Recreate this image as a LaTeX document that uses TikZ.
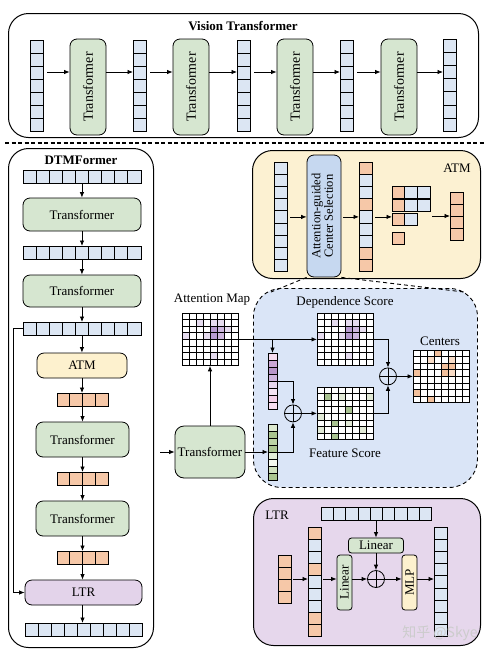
\documentclass[tikz,border=0pt]{standalone}
\usepackage{fontspec}
\setmainfont{Liberation Serif}
\newfontfamily\cjkfont{Noto Sans CJK SC}
\usetikzlibrary{arrows.meta}
\definecolor{tb}{HTML}{DCE6F3}
\definecolor{to}{HTML}{F6C8A8}
\definecolor{tg}{HTML}{D6E6D0}
\definecolor{ty}{HTML}{FDF1CE}
\definecolor{tp}{HTML}{E3D3EA}
\definecolor{atmbg}{HTML}{FCF1D2}
\definecolor{ltrbg}{HTML}{E6D7EC}
\definecolor{bluereg}{HTML}{DAE5F7}
\definecolor{agcsc}{HTML}{C6D8F0}
\definecolor{pl}{HTML}{E6DCEF}
\definecolor{pm}{HTML}{CDB6DE}
\definecolor{pd}{HTML}{B79BD0}
\definecolor{gl}{HTML}{E2EAD7}
\definecolor{gm}{HTML}{A8C290}
\definecolor{ol}{HTML}{F9DCC6}
\definecolor{om}{HTML}{F2C09C}
\definecolor{pc1}{HTML}{F6DDF0}
\definecolor{pc2}{HTML}{C9A6D4}
\definecolor{pc3}{HTML}{B795C8}
\definecolor{pc4}{HTML}{CDB3DC}
\definecolor{pc5}{HTML}{E6D6EE}
\definecolor{pc6}{HTML}{F3E3F3}
\definecolor{pc7}{HTML}{F2CFE8}
\definecolor{gc1}{HTML}{DCE9CF}
\definecolor{gc2}{HTML}{A9C48F}
\definecolor{gc3}{HTML}{BCD3A6}
\definecolor{gc4}{HTML}{E3EEDA}
\definecolor{gc5}{HTML}{F4F8EF}
\definecolor{gc6}{HTML}{CFE0BE}
% horizontal strip: name, x, y, cell w, cell h, n, colours
\newcommand\hstrip[7]{%
  \node[inner sep=0pt,outer sep=0pt,minimum width={#4*#6*1pt},minimum height={#5*1pt},anchor=north west] (#1) at (#2,#3) {};
  \foreach \ck [count=\ii from 0] in {#7} \draw[cell,fill=\ck] ({#2+\ii*#4},#3) rectangle ++(#4,#5);
}
% vertical strip
\newcommand\vstrip[7]{%
  \node[inner sep=0pt,outer sep=0pt,minimum width={#4*1pt},minimum height={#5*#6*1pt},anchor=north west] (#1) at (#2,#3) {};
  \foreach \ck [count=\ii from 0] in {#7} \draw[cell,fill=\ck] (#2,{#3+\ii*#5}) rectangle ++(#4,#5);
}
% 8x8 grid: name, x, y, coloured cells col/row/colour
\newcommand\attgrid[4]{%
  \node[inner sep=0pt,outer sep=0pt,minimum width=56pt,minimum height=52.8pt,anchor=north west,fill=white] (#1) at (#2,#3) {};
  \foreach \ci/\ri/\ck in {#4} \fill[\ck] ({#2+\ci*7},{#3+\ri*6.6}) rectangle ++(7,6.6);
  \foreach \kk in {0,...,8} {\draw[gridline] ({#2+\kk*7},#3) -- ++(0,52.8); \draw[gridline] (#2,{#3+\kk*6.6}) -- ++(56,0);}
}
\begin{document}
\begin{tikzpicture}[x=1pt,y=-1pt,font=\fontsize{13}{15}\selectfont,
  cell/.style={draw=black,line width=0.75pt},
  gridline/.style={draw=black,line width=0.9pt},
  tfbox/.style={draw,line width=0.8pt,rounded corners=7pt,fill=tg,inner sep=0pt},
  arr/.style={-{Latex[length=5.5pt,width=4.5pt]},line width=0.8pt},
  container/.style={draw,line width=1pt,rounded corners=20pt,inner sep=0pt,anchor=north west},
  oplus/.style={circle,draw,line width=0.8pt,minimum size=17pt,inner sep=0pt,
    path picture={\draw[line width=0.8pt] (path picture bounding box.north) -- (path picture bounding box.south) (path picture bounding box.west) -- (path picture bounding box.east);}},
  zoomline/.style={dashed,dash pattern=on 4pt off 3pt,line width=0.9pt},
]
\useasboundingbox (0,0) rectangle (491,657);
\fill[white] (0,0) rectangle (491,657);

% ---------------- Vision Transformer ----------------
\node[container,minimum width=470pt,minimum height=124pt] (vit) at (8,13) {};
\node[font=\fontsize{13}{15}\selectfont\bfseries] (vittitle) at (243,26) {Vision Transformer};
\vstrip{v1}{30}{40}{13}{13}{7}{tb,tb,tb,tb,tb,tb,tb}
\vstrip{v2}{133}{40}{13}{13}{7}{tb,tb,tb,tb,tb,tb,tb}
\vstrip{v3}{237}{40}{13}{13}{7}{tb,tb,tb,tb,tb,tb,tb}
\vstrip{v4}{340}{40}{13}{13}{7}{tb,tb,tb,tb,tb,tb,tb}
\vstrip{v5}{443}{39}{13}{13.2}{7}{tb,tb,tb,tb,tb,tb,tb}
\node[tfbox,minimum width=36pt,minimum height=96pt,font=\fontsize{14}{16}\selectfont] (vt1) at (88,87) {\rotatebox{90}{Transformer}};
\node[tfbox,minimum width=36pt,minimum height=96pt,font=\fontsize{14}{16}\selectfont] (vt2) at (191,87) {\rotatebox{90}{Transformer}};
\node[tfbox,minimum width=36pt,minimum height=96pt,font=\fontsize{14}{16}\selectfont] (vt3) at (295,87) {\rotatebox{90}{Transformer}};
\node[tfbox,minimum width=36pt,minimum height=96pt,font=\fontsize{14}{16}\selectfont] (vt4) at (399,87) {\rotatebox{90}{Transformer}};
\coordinate (vrow) at (0,72);
\draw[arr,shorten <=4pt] (v1.east |- vrow) -- (vt1.west |- vrow);
\draw[arr] (vt1.east |- vrow) -- (v2.west |- vrow);
\draw[arr,shorten <=4pt] (v2.east |- vrow) -- (vt2.west |- vrow);
\draw[arr] (vt2.east |- vrow) -- (v3.west |- vrow);
\draw[arr,shorten <=4pt] (v3.east |- vrow) -- (vt3.west |- vrow);
\draw[arr] (vt3.east |- vrow) -- (v4.west |- vrow);
\draw[arr,shorten <=4pt] (v4.east |- vrow) -- (vt4.west |- vrow);
\draw[arr] (vt4.east |- vrow) -- (v5.west |- vrow);

% separator
\coordinate (sepl) at (5,143);
\coordinate (sepr) at (484,143);
\draw[dash pattern=on 4pt off 2.5pt,line width=1.3pt] (sepl) -- (sepr);

% ---------------- DTMFormer ----------------
\node[container,minimum width=145pt,minimum height=499pt] (dtm) at (8,148) {};
\node[font=\fontsize{13}{15}\selectfont\bfseries] (dtmtitle) at (81,160) {DTMFormer};
\hstrip{d1}{23}{170}{13.1}{13}{9}{tb,tb,tb,tb,tb,tb,tb,tb,tb}
\node[tfbox,minimum width=118pt,minimum height=33pt] (dt1) at (82,214.5) {Transformer};
\hstrip{d2}{23}{246}{13.1}{13}{9}{tb,tb,tb,tb,tb,tb,tb,tb,tb}
\node[tfbox,minimum width=118pt,minimum height=32pt] (dt2) at (82,291) {Transformer};
\hstrip{d3}{23}{322}{13.1}{13.5}{9}{tb,tb,tb,tb,tb,tb,tb,tb,tb}
\node[tfbox,fill=ty,minimum width=90pt,minimum height=25pt] (datm) at (82,365.5) {ATM};
\hstrip{do1}{57}{393}{12.75}{13.5}{4}{to,to,to,to}
\node[tfbox,minimum width=93pt,minimum height=35pt] (dt3) at (82.5,439.5) {Transformer};
\hstrip{do2}{57}{472}{12.75}{13.5}{4}{to,to,to,to}
\node[tfbox,minimum width=93pt,minimum height=35pt] (dt4) at (82.5,518.5) {Transformer};
\hstrip{do3}{57}{551}{12.75}{13.5}{4}{to,to,to,to}
\node[tfbox,fill=tp,minimum width=117pt,minimum height=25pt] (dltr) at (83.5,592.5) {LTR};
\hstrip{d4}{25}{623}{13}{13.5}{9}{tb,tb,tb,tb,tb,tb,tb,tb,tb}
\draw[arr] (d1.south) -- (d1.south |- dt1.north);
\draw[arr] (dt1.south) -- (dt1.south |- d2.north);
\draw[arr] (d2.south) -- (d2.south |- dt2.north);
\draw[arr] (dt2.south) -- (dt2.south |- d3.north);
\draw[arr] (d3.south) -- (d3.south |- datm.north);
\draw[arr] (datm.south) -- (datm.south |- do1.north);
\draw[arr] (do1.south) -- (do1.south |- dt3.north);
\draw[arr] (dt3.south) -- (dt3.south |- do2.north);
\draw[arr] (do2.south) -- (do2.south |- dt4.north);
\draw[arr] (dt4.south) -- (dt4.south |- do3.north);
\draw[arr] (do3.south) -- (do3.south |- dltr.north);
\draw[arr] (dltr.south -| do3.south) -- (do3.south |- d4.north);
\draw[arr] (d3.west) -- ++(-10,0) |- (dltr.west);

% ---------------- ATM ----------------
\node[container,fill=atmbg,minimum width=228pt,minimum height=128pt] (atm) at (252,150) {};
\node (atmtitle) at (457,168) {ATM};
\vstrip{a1}{274}{162}{13}{12.2}{9}{tb,tb,tb,tb,tb,tb,tb,tb,tb}
\node[tfbox,fill=agcsc,minimum width=34pt,minimum height=122pt] (agcs) at (324,216) {\rotatebox{90}{\fontsize{12.5}{12.5}\selectfont\begin{tabular}{@{}c@{}}Attention-guided\\Center Selection\end{tabular}}};
\vstrip{a2}{359}{162}{13}{12.2}{9}{to,tb,tb,to,tb,tb,tb,to,to}
\hstrip{cla}{392}{186}{12.7}{12}{3}{to,tb,tb}
\hstrip{clb}{392}{199.5}{12.7}{12}{3}{to,tb,tb}
\hstrip{clc}{392}{213}{12.7}{12}{2}{to,tb}
\hstrip{cld}{392}{232}{12.7}{12}{1}{to}
\node[inner sep=0pt,minimum width=38pt,minimum height=58pt,anchor=north west] (cl) at (392,186) {};
\vstrip{a3}{450}{192}{13}{12}{4}{to,to,to,to}
\draw[arr,shorten <=3pt] (a1.east) -- (a1.east -| agcs.west);
\draw[arr,shorten <=2pt] (agcs.east |- a2.west) -- (a2.west);
\draw[arr,shorten <=3pt] (a2.east) -- (a2.east -| cl.west);
\draw[arr,shorten <=2pt] (cl.east |- a3.west) -- (a3.west);

% ---------------- zoom region ----------------
\node[draw,zoomline,fill=bluereg,rounded corners=28pt,minimum width=224pt,minimum height=199pt,inner sep=0pt,anchor=north west] (reg) at (253,288) {};
\coordinate (zl) at (271,292);
\coordinate (zr) at (464,292);
\draw[zoomline] (agcs.south west) -- (zl);
\draw[zoomline] (agcs.south east) -- (zr);

\node (amtitle) at (212,300) {Attention Map};
\attgrid{am}{182}{313}{2/1/pl,4/1/pl,5/1/pl,4/2/pd,5/2/pm,6/2/pl,0/3/pl,3/3/pl,4/3/pd,5/3/pm,4/6/pl}
\node[tfbox,rounded corners=9pt,minimum width=70pt,minimum height=52pt] (ct) at (210,452) {Transformer};
\coordinate (ctin) at (160,452);
\draw[arr] (ctin) -- (ct.west);
\draw[arr] (ct.north) -- (am.south);

\node (dstitle) at (345,302) {Dependence Score};
\attgrid{ds}{317}{313}{2/1/pl,4/1/pl,5/1/pl,4/2/pd,5/2/pm,6/2/pl,0/3/pl,3/3/pl,4/3/pd,5/3/pm,4/6/pl}
\attgrid{fs}{317}{387}{1/1/gm,3/1/gl,7/1/gl,4/3/gm,0/4/gl,2/5/gm,4/5/gl,0/6/gl,6/6/gl,2/7/gm}
\node (fstitle) at (345,453) {Feature Score};
\node (cttitle) at (440,341) {Centers};
\attgrid{cg}{413}{350}{3/0/om,2/1/ol,5/1/ol,4/2/om,5/2/om,0/3/om,4/3/om,5/3/ol,0/6/om,2/7/om}
\vstrip{pc}{268}{353}{9}{7}{8}{pc1,pc2,pc3,pc4,pc5,pc6,pc7,pc1}
\vstrip{gc}{268}{424}{9}{7}{8}{gc1,gc2,gc3,gc2,gc4,gc5,gc6,gc2}
\node[oplus] (op1) at (293,413.4) {};
\node[oplus] (op2) at (388,376.4) {};
\draw[arr] (ct.east) -- (gc.west |- ct.east);
\draw[arr] (am.east) -- (ds.west);
\draw[arr] (am.east -| pc.north) -- (pc.north);
\draw[arr] (pc.east) -| (op1.north);
\draw[arr] (gc.east) -| (op1.south);
\draw[arr] (op1.east) -- (fs.west |- op1.east);
\draw[arr] (ds.east) -| (op2.north);
\draw[arr] (fs.east) -| (op2.south);
\draw[arr] (op2.east) -- (cg.west |- op2.east);

% ---------------- LTR ----------------
\node[container,fill=ltrbg,minimum width=227pt,minimum height=147pt] (ltr) at (253,498) {};
\node (ltrtitle) at (277,515) {LTR};
\hstrip{lt}{321}{507}{12.3}{13}{9}{tb,tb,tb,tb,tb,tb,tb,tb,tb}
\node[tfbox,rounded corners=3pt,minimum width=55pt,minimum height=15pt] (lh) at (376,545.5) {Linear};
\node[oplus] (op3) at (376,579) {};
\vstrip{lo}{278}{555}{13}{12}{4}{to,to,to,to}
\vstrip{lm}{308}{527}{13}{12.2}{9}{to,tb,tb,to,tb,tb,tb,to,to}
\node[tfbox,rounded corners=3pt,minimum width=15pt,minimum height=55pt] (lv) at (344.5,582.5) {\rotatebox{90}{Linear}};
\node[tfbox,fill=ty,rounded corners=3pt,minimum width=15pt,minimum height=55pt] (mlp) at (409.5,582.5) {\rotatebox{90}{MLP}};
\vstrip{rc}{434}{527}{13}{12.2}{9}{tb,tb,tb,tb,tb,tb,tb,tb,tb}
\draw[arr] (lh.north |- lt.south) -- (lh.north);
\draw[arr] (lh.south) -- (op3.north);
\draw[arr,shorten <=2pt] (lo.east) -- (lo.east -| lm.west);
\draw[arr,shorten <=2pt] (lm.east |- op3) -- (lv.west |- op3);
\draw[arr] (lv.east |- op3) -- (op3.west);
\draw[arr] (op3.east) -- (mlp.west |- op3);
\draw[arr] (mlp.east |- op3) -- (rc.west |- op3);

\node[text=gray!40,font=\cjkfont\fontsize{14}{16}\selectfont] (wm) at (440,633) {知乎 @Skye};
\end{tikzpicture}
\end{document}
